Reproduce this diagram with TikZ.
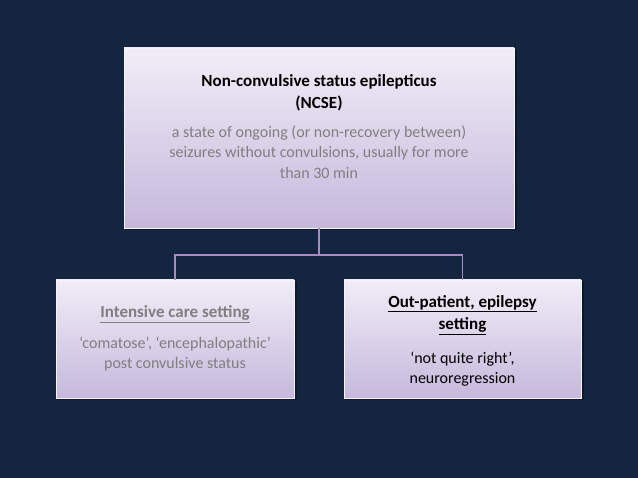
\documentclass[tikz,border=0pt]{standalone}
\usepackage{fontspec}
\setmainfont{Carlito}
\usetikzlibrary{positioning}
\definecolor{navy}{HTML}{13253F}
\definecolor{lavtop}{HTML}{F1EDF7}
\definecolor{lavbot}{HTML}{C6B8DC}
\definecolor{linklila}{HTML}{A68CC0}
\definecolor{greytext}{HTML}{7F7F7F}
\tikzset{
  box/.style={draw=white!85!lavbot, line width=0.6pt, top color=lavtop, bottom color=lavbot,
    align=center, inner sep=0pt, font=\fontsize{16}{20.5}\selectfont},
  link/.style={draw=linklila, line width=1.2pt}
}
\begin{document}
\begin{tikzpicture}[x=1pt,y=1pt]
        \fill[navy] (0,0) rectangle (638,478);
        \useasboundingbox (0,0) rectangle (638,478);
        % shadows
        \fill[black, opacity=0.35] (126,248) rectangle (517,428);
        \fill[black, opacity=0.35] (58,78) rectangle (297,196);
        \fill[black, opacity=0.35] (346,78) rectangle (584,196);
        \node[box, minimum width=390, minimum height=180] (ncse) at (319,340) {};
        \node[box, minimum width=238, minimum height=118] (icu) at (175,139) {};
        \node[box, minimum width=237, minimum height=118] (opd) at (462.5,139) {};
        % texts
        \node[align=center, font=\fontsize{17}{22}\selectfont\bfseries] (ncsetitle) at (319,385) {Non-convulsive status epilepticus\\(NCSE)};
        \node[align=center, text=greytext, font=\fontsize{16}{20.5}\selectfont] (ncsetext) at (319,326) {a state of ongoing (or non-recovery between)\\seizures without convulsions, usually for more\\than 30 min};
        \node[text=greytext, font=\fontsize{17}{22}\selectfont\bfseries] (icutitle) at (175,164) {\underline{Intensive care setting}};
        \node[align=center, text=greytext, font=\fontsize{16}{20.5}\selectfont] (icutext) at (175,124) {‘comatose’, ‘encephalopathic’\\post convulsive status};
        \node[align=center, font=\fontsize{17}{22}\selectfont\bfseries] (opdtitle) at (462.5,163) {\underline{Out-patient, epilepsy}\\\underline{setting}};
        \node[align=center, font=\fontsize{16}{20.5}\selectfont] (opdtext) at (462.5,109) {‘not quite right’,\\neuroregression};
        % connectors
        \coordinate (fork) at (319,223);
        \draw[link] (ncse.south) -- (fork);
        \draw[link] (icu.north) |- (fork) -| (opd.north);
\end{tikzpicture}
\end{document}
